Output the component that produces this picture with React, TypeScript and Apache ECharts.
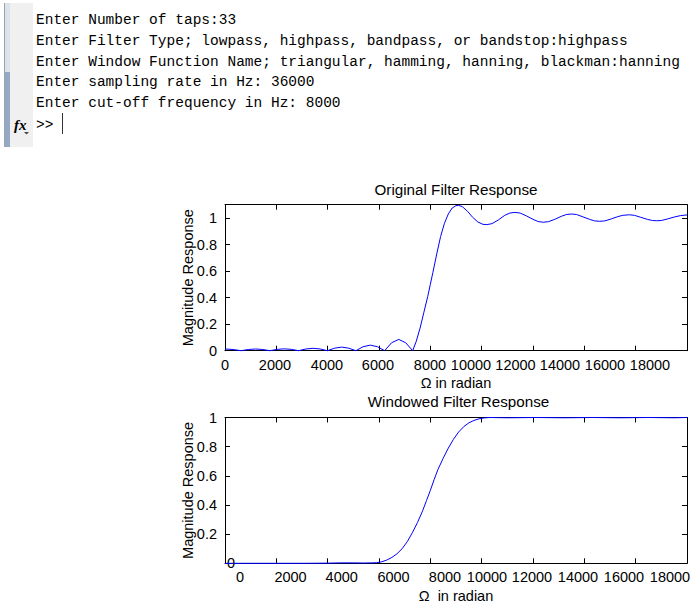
import React, { useEffect, useRef } from 'react';
import * as echarts from 'echarts';

// ---- console text ----
const consoleLines = [
  'Enter Number of taps:33',
  'Enter Filter Type; lowpass, highpass, bandpass, or bandstop:highpass',
  'Enter Window Function Name; triangular, hamming, hanning, blackman:hanning',
  'Enter sampling rate in Hz: 36000',
  'Enter cut-off frequency in Hz: 8000',
];
const promptText = '>>';

// ---- chart texts ----
const titleTop = 'Original Filter Response';
const titleBottom = 'Windowed Filter Response';
const xNameTop = 'Ω in radian';
const xNameBottom = 'Ω  in radian';
const yName = 'Magnitude Response';
const xTickLabels = ['0', '2000', '4000', '6000', '8000', '10000', '12000', '14000', '16000', '18000'];

// ---- original (rectangular) filter response ----
const origFreq = [
  0, 320, 630, 910, 1190, 1470, 1750, 2030, 2310, 2590, 2870, 3150, 3430, 3710, 3990,
  4270, 4545, 4820, 5100, 5380, 5660, 5940, 6220, 6490, 6770, 7040, 7312,
  7450, 7600, 7750, 7900, 8000, 8100, 8250, 8400, 8550, 8700, 8850, 9000, 9100, 9250,
  9450, 9650, 9850, 10050, 10200, 10400, 10650, 10900, 11100, 11300, 11500, 11750,
  12000, 12200, 12400, 12600, 12850, 13100, 13300, 13500, 13700, 13950, 14200, 14400,
  14600, 14800, 15050, 15300, 15500, 15750, 15950, 16200, 16450, 16650, 16820, 17000,
  17250, 17500, 17750, 18000,
];
const origMag = [
  0.013, 0.009, 0.0, 0.009, 0.013, 0.009, 0.0, 0.01, 0.014, 0.01, 0.0, 0.013, 0.018, 0.013, 0.0,
  0.019, 0.027, 0.019, 0.0, 0.03, 0.042, 0.03, 0.0, 0.06, 0.085, 0.06, 0.0,
  0.07, 0.17, 0.29, 0.41, 0.5, 0.59, 0.73, 0.86, 0.96, 1.03, 1.075, 1.093, 1.095, 1.085,
  1.05, 1.005, 0.97, 0.952, 0.95, 0.957, 0.985, 1.02, 1.037, 1.042, 1.037, 1.015,
  0.99, 0.973, 0.968, 0.972, 0.99, 1.012, 1.026, 1.03, 1.026, 1.008, 0.99, 0.978,
  0.975, 0.978, 0.993, 1.01, 1.02, 1.024, 1.02, 1.005, 0.99, 0.981, 0.979, 0.981,
  0.993, 1.007, 1.018, 1.023,
];

// ---- windowed (hanning) filter response ----
const winFreq = [
  0, 1000, 2000, 3000, 4000, 4500, 5000, 5400, 5700, 5900, 6100, 6300, 6500, 6700, 6900,
  7100, 7300, 7500, 7700, 7850, 8000, 8150, 8300, 8500, 8700, 8900, 9100, 9300, 9500,
  9700, 9900, 10100, 10300, 11000, 12100, 13200, 14300, 15400, 16500, 17500, 18000,
];
const winMag = [
  0, 0, 0, 0, 0.001, 0.003, 0.003, 0.002, 0.003, 0.004, 0.01, 0.022, 0.04, 0.065, 0.1,
  0.148, 0.21, 0.28, 0.36, 0.43, 0.5, 0.575, 0.645, 0.72, 0.79, 0.85, 0.9, 0.937, 0.963,
  0.98, 0.991, 0.997, 1.0, 0.998, 1.0, 0.998, 1.0, 0.998, 1.0, 0.998, 1.0,
];

// ---- layout: where MATLAB drew the x tick labels (in axis units) ----
const topLabelPos = [0, 1948, 3974, 5961, 7987, 9584, 11318, 13052, 14805, 16558];
const bottomLabelPos = [584, 2552, 4547, 6565, 8571, 10208, 11961, 13753, 15545, 17338];

const SANS = 'Liberation Sans';
const MONO = '"Liberation Mono"';

function nearestLabel(pos: number[]) {
  return (v: number) => {
    let best = 0;
    let d = Infinity;
    pos.forEach((p, i) => {
      const dd = Math.abs(p - v);
      if (dd < d) { d = dd; best = i; }
    });
    return xTickLabels[best];
  };
}

const fmtY = (v: number) => String(Number(v.toFixed(2)));

export default function App() {
  const ref = useRef<HTMLDivElement>(null);
  useEffect(() => {
    if (!ref.current) return;
    const chart = echarts.init(ref.current, undefined, { renderer: 'svg' });

    const axisLine = { show: true, onZero: false, lineStyle: { color: '#000', width: 1 } };
    const tickIn = { show: true, inside: true, length: 5, lineStyle: { color: '#000', width: 1 } };
    const labelStyle = { color: '#000', fontSize: 14.5, fontFamily: SANS };
    const nameStyle = { color: '#000', fontSize: 14.5, fontFamily: SANS };
    const titleStyle = { color: '#000', fontSize: 15.2, fontFamily: SANS, fontWeight: 'normal' as const };

    const xBase = (grid: number) => ({
      type: 'value' as const, gridIndex: grid, min: 0, max: 18000, interval: 2000,
      splitLine: { show: false }, axisLine, axisTick: tickIn,
    });

    const graphicEls: any[] = [
      { type: 'rect', shape: { x: 4, y: 3, width: 29, height: 144 }, style: { fill: '#f0f0f0' } },
      { type: 'rect', shape: { x: 4, y: 3, width: 6, height: 69 }, style: { fill: '#dde3ea' } },
      { type: 'rect', shape: { x: 4, y: 72, width: 6, height: 75 }, style: { fill: '#95a8c4' } },
      { type: 'line', shape: { x1: 4.5, y1: 3, x2: 4.5, y2: 147 }, style: { stroke: '#9aa3ae', lineWidth: 1 } },
      ...consoleLines.map((t, i) => ({
        type: 'text', x: 36, y: 20 + i * 20.75,
        style: { text: t, fill: '#000', font: `14.5px ${MONO}`, verticalAlign: 'middle', align: 'left' },
      })),
      {
        type: 'text', x: 14, y: 125,
        style: { text: 'fx', fill: '#000', font: 'italic bold 15px "Liberation Serif"', verticalAlign: 'middle', align: 'left' },
      },
      { type: 'polygon', shape: { points: [[24, 132], [29, 132], [26.5, 134.5]] }, style: { fill: '#444' } },
      {
        type: 'text', x: 36, y: 125,
        style: { text: promptText, fill: '#000', font: `14.5px ${MONO}`, verticalAlign: 'middle', align: 'left' },
      },
      { type: 'line', shape: { x1: 62.5, y1: 113, x2: 62.5, y2: 134 }, style: { stroke: '#333', lineWidth: 1 } },
    ];

    chart.setOption({
      animation: false,
      backgroundColor: '#fff',
      title: [
        { text: titleTop, left: 456, top: 182, padding: 0, textAlign: 'center', textStyle: titleStyle },
        { text: titleBottom, left: 458.5, top: 394, padding: 0, textAlign: 'center', textStyle: titleStyle },
      ],
      grid: [
        { left: 225, top: 204.7, width: 462, height: 146, containLabel: false },
        { left: 225, top: 417.5, width: 462, height: 145.8, containLabel: false },
      ],
      xAxis: [
        {
          ...xBase(0), position: 'bottom',
          axisLabel: { ...labelStyle, margin: 7, customValues: topLabelPos, formatter: nearestLabel(topLabelPos) },
          name: xNameTop, nameLocation: 'middle', nameGap: 25, nameTextStyle: nameStyle,
        },
        { ...xBase(0), position: 'top', axisLabel: { show: false } },
        {
          ...xBase(1), position: 'bottom',
          axisLabel: { ...labelStyle, margin: 6, customValues: bottomLabelPos, formatter: nearestLabel(bottomLabelPos) },
          name: xNameBottom, nameLocation: 'middle', nameGap: 25, nameTextStyle: nameStyle,
        },
        { ...xBase(1), position: 'top', axisLabel: { show: false } },
      ],
      yAxis: [
        {
          type: 'value', gridIndex: 0, min: 0, max: 1.1, interval: 0.2, position: 'left',
          splitLine: { show: false }, axisLine, axisTick: tickIn,
          axisLabel: { ...labelStyle, margin: 8, formatter: (v: number) => (v > 1.0001 ? '' : fmtY(v)) },
          name: yName, nameLocation: 'middle', nameGap: 30, nameRotate: 90, nameMoveOverlap: false,
          nameTextStyle: nameStyle,
        },
        {
          type: 'value', gridIndex: 0, min: 0, max: 1.1, interval: 0.2, position: 'right',
          splitLine: { show: false }, axisLine, axisTick: tickIn, axisLabel: { show: false },
        },
        {
          type: 'value', gridIndex: 1, min: 0, max: 1, interval: 0.2, position: 'left',
          splitLine: { show: false }, axisLine, axisTick: tickIn,
          axisLabel: { ...labelStyle, margin: 8, formatter: (v: number) => (v === 0 ? '' : fmtY(v)) },
          name: yName, nameLocation: 'middle', nameGap: 30, nameRotate: 90, nameMoveOverlap: false,
          nameTextStyle: nameStyle,
        },
        {
          type: 'value', gridIndex: 1, min: 0, max: 1, interval: 0.2, position: 'right',
          splitLine: { show: false }, axisLine, axisTick: tickIn, axisLabel: { show: false },
        },
        {
          type: 'value', gridIndex: 1, min: 0, max: 1, interval: 0.2, position: 'left', offset: -18,
          splitLine: { show: false }, axisLine: { show: false }, axisTick: { show: false },
          axisLabel: { ...labelStyle, margin: 8, formatter: (v: number) => (v === 0 ? '0' : '') },
        },
      ],
      series: [
        {
          type: 'line', xAxisIndex: 0, yAxisIndex: 0, symbol: 'none', clip: false,
          lineStyle: { color: '#0000ff', width: 1 },
          data: origFreq.map((f, i) => [f, origMag[i]]),
        },
        {
          type: 'line', xAxisIndex: 2, yAxisIndex: 2, symbol: 'none', clip: false,
          lineStyle: { color: '#0000ff', width: 1 },
          data: winFreq.map((f, i) => [f, winMag[i]]),
        },
      ],
      graphic: { elements: graphicEls },
    });

    return () => chart.dispose();
  }, []);

  return (
    <div
      ref={ref}
      style={{ position: 'fixed', left: 0, top: 0, width: 696, height: 610, background: '#fff' }}
    />
  );
}
